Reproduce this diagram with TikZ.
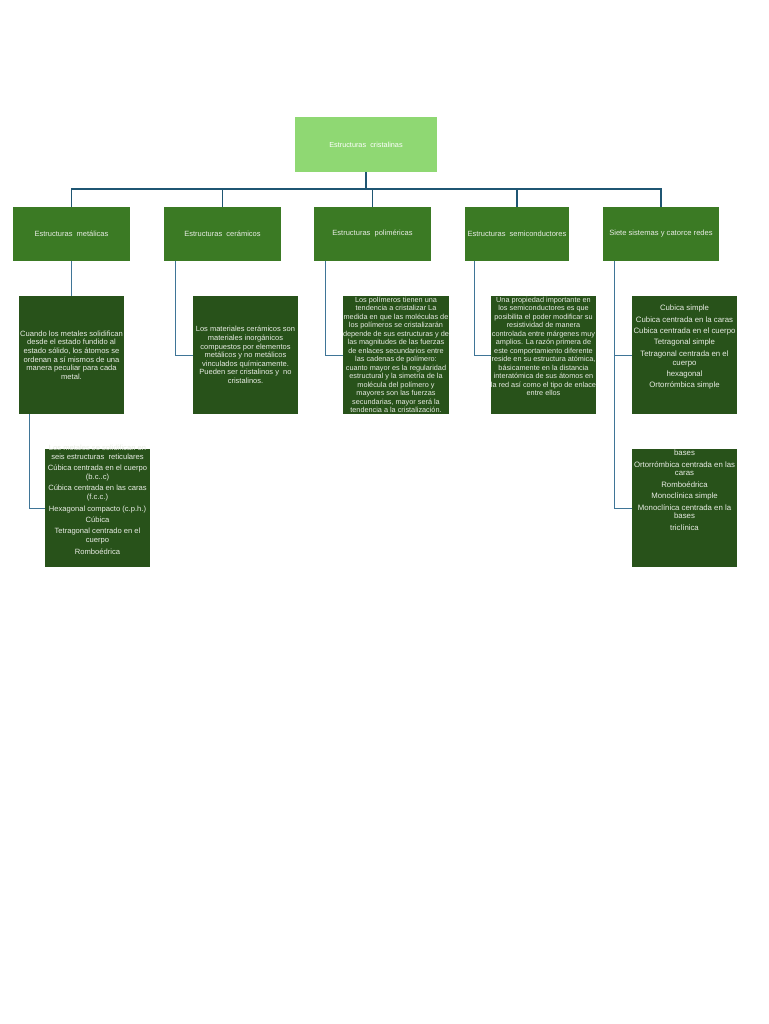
\documentclass[tikz,border=0pt]{standalone}
\usepackage{fontspec}
\setmainfont{Liberation Sans}
\usepackage{xcolor}
\usepackage{tikz}
\definecolor{topgreen}{HTML}{8FD873}
\definecolor{headgreen}{HTML}{3B7A24}
\definecolor{infogreen}{HTML}{28521A}
\definecolor{treeblue}{HTML}{1F5673}
\definecolor{branchblue}{HTML}{3F7597}
\definecolor{paletext}{HTML}{E8ECE4}
\tikzset{
topbox/.style = {rectangle, fill=topgreen, text=white, minimum width=142pt,
              minimum height=55pt, inner sep=0pt, font=\fontsize{7.3}{8}\selectfont}
}
\tikzset{
headbox/.style = {rectangle, fill=headgreen, text=paletext, minimum width=#1,
              minimum height=54pt, inner sep=0pt, font=\fontsize{7.5}{8}\selectfont},
headbox/.default = 117pt % width of the box
}
\tikzset{
infobox/.style = {rectangle, fill=infogreen, text=paletext, minimum width=#1,
              minimum height=118pt, inner sep=0pt, align=center,
              font=\fontsize{7.5}{8.6}\selectfont},
infobox/.default = 105pt,
infotext/.style = {text=paletext, inner sep=0pt, align=center,
              font=\fontsize{7.6}{8.8}\selectfont}
}
\tikzset{
tree/.style = {draw=treeblue, line width=1.8pt},
branch/.style = {draw=branchblue, line width=0.9pt}
}

\begin{document}
\begin{tikzpicture}[x=1pt, y=-1pt]
  \useasboundingbox (0,0) rectangle (768,1024);

  % Boxes
    \node[topbox] (top) at (366,144.5) {Estructuras\ \ cristalinas};
    \node[headbox] (metal) at (71.5,234) {Estructuras\ \ metálicas};
    \node[headbox] (ceram) at (222.5,234) {Estructuras\ \ cerámicos};
    \node[headbox] (polim) at (372.5,234) {Estructuras\ \ poliméricas};
    \node[headbox=104pt] (semic) at (517,234) {Estructuras\ \ semiconductores};
    \node[headbox=116pt, font=\fontsize{7.6}{8}\selectfont] (redes) at (661,234) {Siete\ sistemas\ y\ catorce\ redes};

  % Info boxes
    \node[infobox, font=\fontsize{7.6}{8.6}\selectfont] (metalInfo) at (71.5,355) {Cuando los metales solidifican\\desde el estado fundido al\\estado sólido, los átomos se\\ordenan a sí mismos de una\\manera peculiar para cada\\metal.};
    \node[infobox] (ceramInfo) at (245.5,355) {Los materiales cerámicos son\\materiales inorgánicos\\compuestos por elementos\\metálicos y no metálicos\\vinculados químicamente.\\Pueden ser cristalinos y\ \ no\\cristalinos.};
    \node[infobox=106pt, font=\fontsize{7.3}{8.5}\selectfont] (polimInfo) at (396,355) {Los polímeros tienen una\\tendencia a cristalizar La\\medida en que las moléculas de\\los polímeros se cristalizarán\\depende de sus estructuras y de\\las magnitudes de las fuerzas\\de enlaces secundarios entre\\las cadenas de polímero:\\cuanto mayor es la regularidad\\estructural y la simetría de la\\molécula del polímero y\\mayores son las fuerzas\\secundarias, mayor será la\\tendencia a la cristalización.};
    \node[infobox] (semicInfo) at (543.5,355) {};
    \node[infotext, anchor=north, font=\fontsize{7.3}{8.5}\selectfont] (semicText) at ([yshift=-1pt]semicInfo.north) {Una propiedad importante en\\los semiconductores es que\\posibilita el poder modificar su\\resistividad de manera\\controlada entre márgenes muy\\amplios. La razón primera de\\este comportamiento diferente\\reside en su estructura atómica,\\básicamente en la distancia\\interatómica de sus átomos en\\la red así como el tipo de enlace\\entre ellos};
    \node[infobox] (redesInfo) at (684.5,355) {};
    \node[infotext, anchor=north, font=\fontsize{7.8}{8.8}\selectfont] (redesText) at ([yshift=-9pt]redesInfo.north) {Cubica\ simple\\[2.6pt]Cubica\ centrada\ en\ la\ caras\\[2.6pt]Cubica\ centrada\ en\ el\ cuerpo\\[2.6pt]Tetragonal\ simple\\[2.6pt]Tetragonal\ centrada\ en\ el\\cuerpo\\[2.6pt]hexagonal\\[2.6pt]Ortorrómbica\ simple};
    \node[infobox] (metalList) at (97.5,508) {};
    \node[infotext, anchor=north] (metalText) at ([yshift=4pt]metalList.north) {Los metales se solidifican en\\seis estructuras\ \ reticulares\\[2.6pt]Cúbica centrada en el cuerpo\\(b.c..c)\\[2.6pt]Cúbica centrada en las caras\\(f.c.c.)\\[2.6pt]Hexagonal compacto (c.p.h.)\\[2.6pt]Cúbica\\[2.6pt]Tetragonal centrado en el\\cuerpo\\[2.6pt]Romboédrica};
    \node[infobox] (redesList) at (684.5,508) {};
    \node[infotext, anchor=north, font=\fontsize{7.8}{8.8}\selectfont] (redesMore) at ([yshift=-1pt]redesList.north) {bases\\[2.6pt]Ortorrómbica\ centrada\ en\ las\\caras\\[2.6pt]Romboédrica\\[2.6pt]Monoclínica\ simple\\[2.6pt]Monoclínica\ centrada\ en\ la\\bases\\[2.6pt]triclínica};

  % Lines
    \foreach \child in {metal,ceram,polim,semic,redes}
      \draw[tree] (top.south) -- ++(0,17) -| (\child.north);
    \draw[branch] (metal.south) -- (metalInfo.north);
    \draw[branch] ([xshift=-47.5pt]ceram.south) |- (ceramInfo.west);
    \draw[branch] ([xshift=-47.5pt]polim.south) |- (polimInfo.west);
    \draw[branch] ([xshift=-43pt]semic.south) |- (semicInfo.west);
    \draw[branch] ([xshift=-47pt]redes.south) |- (redesInfo.west);
    \draw[branch] ([xshift=-47pt]redes.south) |- (redesList.west);
    \draw[branch] ([xshift=-42.5pt]metalInfo.south) |- (metalList.west);
\end{tikzpicture}
\end{document}
